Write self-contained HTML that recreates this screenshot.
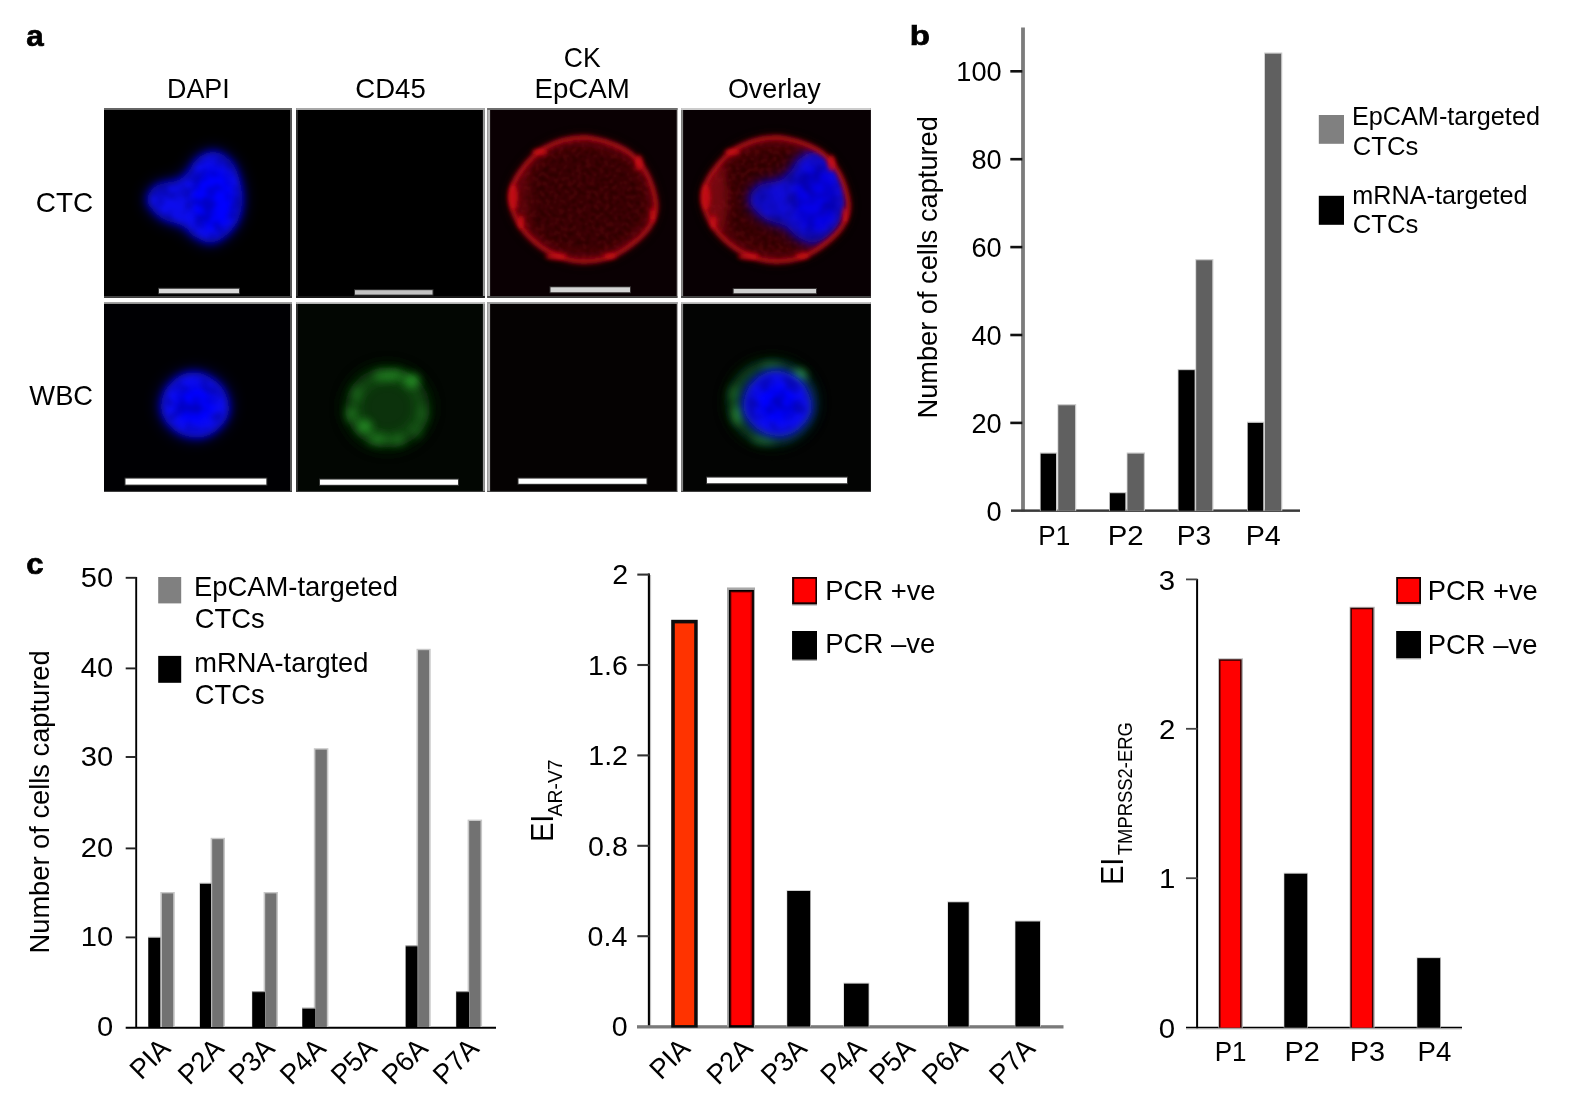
<!DOCTYPE html>
<html lang="en">
<head>
<meta charset="utf-8">
<title>Figure: CTC capture and expression index</title>
<style>
html,body{margin:0;padding:0;background:#fff;}
body{width:1584px;height:1111px;overflow:hidden;}
svg{display:block;}
svg text{font-family:"Liberation Sans", sans-serif;}
</style>
</head>
<body>
<svg width="1584" height="1111" viewBox="0 0 1584 1111">
<defs>
<filter id="b1" x="-40%" y="-40%" width="180%" height="180%"><feGaussianBlur stdDeviation="1.2"/></filter>
<filter id="b2" x="-120%" y="-120%" width="340%" height="340%"><feGaussianBlur stdDeviation="2"/></filter>
<filter id="b3" x="-150%" y="-150%" width="400%" height="400%"><feGaussianBlur stdDeviation="3"/></filter>
<filter id="b4" x="-80%" y="-80%" width="260%" height="260%"><feGaussianBlur stdDeviation="5"/></filter>
<filter id="b6" x="-100%" y="-100%" width="300%" height="300%"><feGaussianBlur stdDeviation="8"/></filter>
<filter id="s4" x="-300%" y="-300%" width="700%" height="700%"><feGaussianBlur stdDeviation="4"/></filter>
<filter id="s5" x="-300%" y="-300%" width="700%" height="700%"><feGaussianBlur stdDeviation="5.5"/></filter>
<clipPath id="cp00"><rect x="104.0" y="108.0" width="188.0" height="189.89999999999998"/></clipPath>
<clipPath id="cp01"><rect x="296.1" y="108.0" width="188.79999999999995" height="189.89999999999998"/></clipPath>
<clipPath id="cp02"><rect x="487.2" y="108.0" width="190.2" height="189.89999999999998"/></clipPath>
<clipPath id="cp03"><rect x="681.1" y="108.0" width="189.79999999999995" height="189.89999999999998"/></clipPath>
<clipPath id="cp10"><rect x="104.0" y="302.0" width="188.0" height="189.7"/></clipPath>
<clipPath id="cp11"><rect x="296.1" y="302.0" width="188.79999999999995" height="189.7"/></clipPath>
<clipPath id="cp12"><rect x="487.2" y="302.0" width="190.2" height="189.7"/></clipPath>
<clipPath id="cp13"><rect x="681.1" y="302.0" width="189.79999999999995" height="189.7"/></clipPath>
<filter id="blotch" x="-10%" y="-10%" width="120%" height="120%"><feTurbulence type="fractalNoise" baseFrequency="0.07" numOctaves="2" seed="11" result="n"/><feColorMatrix in="n" type="matrix" values="0 0 0 0 1  0 0 0 0 1  0 0 0 0 1  3 0 0 0 -1.15" result="a"/><feComposite in="SourceGraphic" in2="a" operator="in" result="g"/><feGaussianBlur in="g" stdDeviation="2.2"/></filter>
<filter id="grain" x="-5%" y="-5%" width="110%" height="110%"><feTurbulence type="fractalNoise" baseFrequency="0.22" numOctaves="2" seed="7" result="n"/><feColorMatrix in="n" type="matrix" values="0 0 0 0 1  0 0 0 0 1  0 0 0 0 1  2.6 0 0 0 -0.85" result="a"/><feComposite in="SourceGraphic" in2="a" operator="in" result="g"/><feGaussianBlur in="g" stdDeviation="1.3"/></filter>
<clipPath id="cpm0"><path d="M510.5 196.0C510.8 187.7 514.3 180.0 520.0 172.0C525.7 164.0 533.9 153.8 544.5 148.0C555.1 142.2 570.5 137.2 583.8 137.5C597.1 137.8 614.1 143.8 624.5 149.5C634.9 155.2 640.8 162.9 646.0 172.0C651.2 181.1 655.3 194.8 656.0 203.8C656.7 212.8 653.8 219.4 650.0 226.0C646.2 232.6 639.7 238.3 633.0 243.5C626.3 248.7 618.2 254.0 610.0 257.0C601.8 260.0 592.1 261.5 583.8 261.5C575.5 261.5 567.9 260.0 560.0 257.0C552.1 254.0 543.5 249.3 536.5 243.5C529.5 237.7 522.3 229.9 518.0 222.0C513.7 214.1 510.2 204.3 510.5 196.0Z"/></clipPath>
<clipPath id="cpm192"><path d="M703.0 196.0C703.3 187.7 706.8 180.0 712.5 172.0C718.2 164.0 726.4 153.8 737.0 148.0C747.6 142.2 763.0 137.2 776.3 137.5C789.6 137.8 806.6 143.8 817.0 149.5C827.4 155.2 833.2 162.9 838.5 172.0C843.8 181.1 847.8 194.8 848.5 203.8C849.2 212.8 846.3 219.4 842.5 226.0C838.7 232.6 832.2 238.3 825.5 243.5C818.8 248.7 810.7 254.0 802.5 257.0C794.3 260.0 784.6 261.5 776.3 261.5C768.0 261.5 760.4 260.0 752.5 257.0C744.6 254.0 736.0 249.3 729.0 243.5C722.0 237.7 714.8 229.9 710.5 222.0C706.2 214.1 702.7 204.3 703.0 196.0Z"/></clipPath>
</defs>
<rect x="0" y="0" width="1584" height="1111" fill="#fff"/>
<rect x="104.00" y="108.00" width="188.00" height="189.90" fill="#000000"/>
<rect x="290.00" y="108.00" width="2.00" height="189.90" fill="#555"/>
<rect x="104.00" y="108.00" width="188.00" height="2.00" fill="#666"/>
<rect x="104.00" y="296.00" width="188.00" height="1.90" fill="#444"/>
<rect x="296.10" y="108.00" width="188.80" height="189.90" fill="#000000"/>
<rect x="296.10" y="108.00" width="1.80" height="189.90" fill="#333"/>
<rect x="482.90" y="108.00" width="2.00" height="189.90" fill="#999"/>
<rect x="296.10" y="108.00" width="188.80" height="2.00" fill="#a8a8a8"/>
<rect x="296.10" y="296.00" width="188.80" height="1.90" fill="#1a1a1a"/>
<rect x="487.20" y="108.00" width="190.20" height="189.90" fill="#0a0003"/>
<rect x="487.20" y="108.00" width="2.90" height="189.90" fill="#b5b5b5"/>
<rect x="676.80" y="108.00" width="0.60" height="189.90" fill="#ccc"/>
<rect x="487.20" y="108.00" width="190.20" height="2.00" fill="#6e6e6e"/>
<rect x="487.20" y="296.00" width="190.20" height="1.90" fill="#444"/>
<rect x="681.10" y="108.00" width="189.80" height="189.90" fill="#080003"/>
<rect x="681.10" y="108.00" width="2.00" height="189.90" fill="#888"/>
<rect x="681.10" y="108.00" width="189.80" height="2.00" fill="#cccccc"/>
<rect x="681.10" y="296.00" width="189.80" height="1.90" fill="#444"/>
<rect x="104.00" y="302.00" width="188.00" height="189.70" fill="#000003"/>
<rect x="290.00" y="302.00" width="2.00" height="189.70" fill="#555"/>
<rect x="104.00" y="302.00" width="188.00" height="1.90" fill="#a2a2a2"/>
<rect x="104.00" y="490.90" width="188.00" height="0.80" fill="#3a3a3a"/>
<rect x="296.10" y="302.00" width="188.80" height="189.70" fill="#020602"/>
<rect x="296.10" y="302.00" width="1.80" height="189.70" fill="#333"/>
<rect x="482.90" y="302.00" width="2.00" height="189.70" fill="#999"/>
<rect x="296.10" y="302.00" width="188.80" height="1.90" fill="#c4c4c4"/>
<rect x="296.10" y="490.90" width="188.80" height="0.80" fill="#3a3a3a"/>
<rect x="487.20" y="302.00" width="190.20" height="189.70" fill="#050202"/>
<rect x="487.20" y="302.00" width="2.90" height="189.70" fill="#b5b5b5"/>
<rect x="676.80" y="302.00" width="0.60" height="189.70" fill="#ccc"/>
<rect x="487.20" y="302.00" width="190.20" height="1.90" fill="#a2a2a2"/>
<rect x="487.20" y="490.90" width="190.20" height="0.80" fill="#3a3a3a"/>
<rect x="681.10" y="302.00" width="189.80" height="189.70" fill="#030403"/>
<rect x="681.10" y="302.00" width="2.00" height="189.70" fill="#888"/>
<rect x="681.10" y="302.00" width="189.80" height="1.90" fill="#c4c4c4"/>
<rect x="681.10" y="490.90" width="189.80" height="0.80" fill="#3a3a3a"/>
<g clip-path="url(#cp00)" opacity="1.0">
<path d="M215.5 152.0C221.4 153.2 229.1 158.1 233.5 165.0C237.9 171.9 241.2 184.5 242.0 193.5C242.8 202.5 241.3 211.9 238.5 219.0C235.7 226.1 229.8 232.1 225.0 236.0C220.2 239.9 215.2 242.5 210.0 242.5C204.8 242.5 198.5 238.8 194.0 236.0C189.5 233.2 188.5 229.1 183.0 226.0C177.5 222.9 166.9 221.7 161.0 217.5C155.1 213.3 148.3 206.2 147.5 201.0C146.7 195.8 150.9 189.5 156.0 186.0C161.1 182.5 172.7 182.3 178.0 180.0C183.3 177.7 184.7 175.7 188.0 172.0C191.3 168.3 193.4 161.3 198.0 158.0C202.6 154.7 209.6 150.8 215.5 152.0Z" fill="#0808d8" stroke="#0808d8" stroke-width="4" filter="url(#b6)" opacity="0.45"/>
<path d="M215.5 152.0C221.4 153.2 229.1 158.1 233.5 165.0C237.9 171.9 241.2 184.5 242.0 193.5C242.8 202.5 241.3 211.9 238.5 219.0C235.7 226.1 229.8 232.1 225.0 236.0C220.2 239.9 215.2 242.5 210.0 242.5C204.8 242.5 198.5 238.8 194.0 236.0C189.5 233.2 188.5 229.1 183.0 226.0C177.5 222.9 166.9 221.7 161.0 217.5C155.1 213.3 148.3 206.2 147.5 201.0C146.7 195.8 150.9 189.5 156.0 186.0C161.1 182.5 172.7 182.3 178.0 180.0C183.3 177.7 184.7 175.7 188.0 172.0C191.3 168.3 193.4 161.3 198.0 158.0C202.6 154.7 209.6 150.8 215.5 152.0Z" fill="#0a0aee" filter="url(#b4)"/>
<ellipse cx="213" cy="199" rx="21" ry="32" fill="#0202ff" filter="url(#b4)"/>
<path d="M215.5 152.0C221.4 153.2 229.1 158.1 233.5 165.0C237.9 171.9 241.2 184.5 242.0 193.5C242.8 202.5 241.3 211.9 238.5 219.0C235.7 226.1 229.8 232.1 225.0 236.0C220.2 239.9 215.2 242.5 210.0 242.5C204.8 242.5 198.5 238.8 194.0 236.0C189.5 233.2 188.5 229.1 183.0 226.0C177.5 222.9 166.9 221.7 161.0 217.5C155.1 213.3 148.3 206.2 147.5 201.0C146.7 195.8 150.9 189.5 156.0 186.0C161.1 182.5 172.7 182.3 178.0 180.0C183.3 177.7 184.7 175.7 188.0 172.0C191.3 168.3 193.4 161.3 198.0 158.0C202.6 154.7 209.6 150.8 215.5 152.0Z" fill="#00006e" filter="url(#blotch)" opacity="0.4"/>
</g>
<g clip-path="url(#cp02)">
<path d="M510.5 196.0C510.8 187.7 514.3 180.0 520.0 172.0C525.7 164.0 533.9 153.8 544.5 148.0C555.1 142.2 570.5 137.2 583.8 137.5C597.1 137.8 614.1 143.8 624.5 149.5C634.9 155.2 640.8 162.9 646.0 172.0C651.2 181.1 655.3 194.8 656.0 203.8C656.7 212.8 653.8 219.4 650.0 226.0C646.2 232.6 639.7 238.3 633.0 243.5C626.3 248.7 618.2 254.0 610.0 257.0C601.8 260.0 592.1 261.5 583.8 261.5C575.5 261.5 567.9 260.0 560.0 257.0C552.1 254.0 543.5 249.3 536.5 243.5C529.5 237.7 522.3 229.9 518.0 222.0C513.7 214.1 510.2 204.3 510.5 196.0Z" fill="#300207" stroke="#300207" stroke-width="6" filter="url(#b4)" opacity="0.6"/>
<path d="M510.5 196.0C510.8 187.7 514.3 180.0 520.0 172.0C525.7 164.0 533.9 153.8 544.5 148.0C555.1 142.2 570.5 137.2 583.8 137.5C597.1 137.8 614.1 143.8 624.5 149.5C634.9 155.2 640.8 162.9 646.0 172.0C651.2 181.1 655.3 194.8 656.0 203.8C656.7 212.8 653.8 219.4 650.0 226.0C646.2 232.6 639.7 238.3 633.0 243.5C626.3 248.7 618.2 254.0 610.0 257.0C601.8 260.0 592.1 261.5 583.8 261.5C575.5 261.5 567.9 260.0 560.0 257.0C552.1 254.0 543.5 249.3 536.5 243.5C529.5 237.7 522.3 229.9 518.0 222.0C513.7 214.1 510.2 204.3 510.5 196.0Z" fill="#2e0206" filter="url(#b2)"/>
<g clip-path="url(#cpm0)">
<path d="M510.5 196.0C510.8 187.7 514.3 180.0 520.0 172.0C525.7 164.0 533.9 153.8 544.5 148.0C555.1 142.2 570.5 137.2 583.8 137.5C597.1 137.8 614.1 143.8 624.5 149.5C634.9 155.2 640.8 162.9 646.0 172.0C651.2 181.1 655.3 194.8 656.0 203.8C656.7 212.8 653.8 219.4 650.0 226.0C646.2 232.6 639.7 238.3 633.0 243.5C626.3 248.7 618.2 254.0 610.0 257.0C601.8 260.0 592.1 261.5 583.8 261.5C575.5 261.5 567.9 260.0 560.0 257.0C552.1 254.0 543.5 249.3 536.5 243.5C529.5 237.7 522.3 229.9 518.0 222.0C513.7 214.1 510.2 204.3 510.5 196.0Z" fill="none" stroke="#6a060e" stroke-width="18" filter="url(#b4)" opacity="0.6"/>
<ellipse cx="522" cy="199" rx="10" ry="38" fill="#8c0812" filter="url(#b4)" opacity="0.3"/>
<path d="M510.5 196.0C510.8 187.7 514.3 180.0 520.0 172.0C525.7 164.0 533.9 153.8 544.5 148.0C555.1 142.2 570.5 137.2 583.8 137.5C597.1 137.8 614.1 143.8 624.5 149.5C634.9 155.2 640.8 162.9 646.0 172.0C651.2 181.1 655.3 194.8 656.0 203.8C656.7 212.8 653.8 219.4 650.0 226.0C646.2 232.6 639.7 238.3 633.0 243.5C626.3 248.7 618.2 254.0 610.0 257.0C601.8 260.0 592.1 261.5 583.8 261.5C575.5 261.5 567.9 260.0 560.0 257.0C552.1 254.0 543.5 249.3 536.5 243.5C529.5 237.7 522.3 229.9 518.0 222.0C513.7 214.1 510.2 204.3 510.5 196.0Z" fill="#90091a" filter="url(#grain)" opacity="0.28"/>
</g>
<g>
<path d="M510.5 196.0C510.8 187.7 514.3 180.0 520.0 172.0C525.7 164.0 533.9 153.8 544.5 148.0C555.1 142.2 570.5 137.2 583.8 137.5C597.1 137.8 614.1 143.8 624.5 149.5C634.9 155.2 640.8 162.9 646.0 172.0C651.2 181.1 655.3 194.8 656.0 203.8C656.7 212.8 653.8 219.4 650.0 226.0C646.2 232.6 639.7 238.3 633.0 243.5C626.3 248.7 618.2 254.0 610.0 257.0C601.8 260.0 592.1 261.5 583.8 261.5C575.5 261.5 567.9 260.0 560.0 257.0C552.1 254.0 543.5 249.3 536.5 243.5C529.5 237.7 522.3 229.9 518.0 222.0C513.7 214.1 510.2 204.3 510.5 196.0Z" fill="none" stroke="#a50917" stroke-width="5" filter="url(#b2)"/>
<ellipse cx="513.5" cy="197" rx="4.5" ry="13" fill="#d00a14" filter="url(#b2)" opacity="0.8"/>
<ellipse cx="639" cy="163" rx="4" ry="8" fill="#d00a14" filter="url(#b2)" opacity="0.8"/>
<ellipse cx="556" cy="256.5" rx="11" ry="3.2" fill="#d00a14" filter="url(#b2)" opacity="0.8"/>
<ellipse cx="521" cy="222" rx="3.2" ry="7" fill="#d00a14" filter="url(#b2)" opacity="0.8"/>
<ellipse cx="610" cy="256" rx="7" ry="3" fill="#d00a14" filter="url(#b2)" opacity="0.8"/>
<ellipse cx="652.5" cy="215" rx="2.6" ry="8" fill="#d00a14" filter="url(#b2)" opacity="0.8"/>
<ellipse cx="540" cy="152" rx="8" ry="3.2" fill="#d00a14" filter="url(#b2)" opacity="0.8"/>
</g>
</g>
<g clip-path="url(#cp03)">
<path d="M703.0 196.0C703.3 187.7 706.8 180.0 712.5 172.0C718.2 164.0 726.4 153.8 737.0 148.0C747.6 142.2 763.0 137.2 776.3 137.5C789.6 137.8 806.6 143.8 817.0 149.5C827.4 155.2 833.2 162.9 838.5 172.0C843.8 181.1 847.8 194.8 848.5 203.8C849.2 212.8 846.3 219.4 842.5 226.0C838.7 232.6 832.2 238.3 825.5 243.5C818.8 248.7 810.7 254.0 802.5 257.0C794.3 260.0 784.6 261.5 776.3 261.5C768.0 261.5 760.4 260.0 752.5 257.0C744.6 254.0 736.0 249.3 729.0 243.5C722.0 237.7 714.8 229.9 710.5 222.0C706.2 214.1 702.7 204.3 703.0 196.0Z" fill="#300207" stroke="#300207" stroke-width="6" filter="url(#b4)" opacity="0.6"/>
<path d="M703.0 196.0C703.3 187.7 706.8 180.0 712.5 172.0C718.2 164.0 726.4 153.8 737.0 148.0C747.6 142.2 763.0 137.2 776.3 137.5C789.6 137.8 806.6 143.8 817.0 149.5C827.4 155.2 833.2 162.9 838.5 172.0C843.8 181.1 847.8 194.8 848.5 203.8C849.2 212.8 846.3 219.4 842.5 226.0C838.7 232.6 832.2 238.3 825.5 243.5C818.8 248.7 810.7 254.0 802.5 257.0C794.3 260.0 784.6 261.5 776.3 261.5C768.0 261.5 760.4 260.0 752.5 257.0C744.6 254.0 736.0 249.3 729.0 243.5C722.0 237.7 714.8 229.9 710.5 222.0C706.2 214.1 702.7 204.3 703.0 196.0Z" fill="#2e0206" filter="url(#b2)"/>
<g clip-path="url(#cpm192)">
<path d="M703.0 196.0C703.3 187.7 706.8 180.0 712.5 172.0C718.2 164.0 726.4 153.8 737.0 148.0C747.6 142.2 763.0 137.2 776.3 137.5C789.6 137.8 806.6 143.8 817.0 149.5C827.4 155.2 833.2 162.9 838.5 172.0C843.8 181.1 847.8 194.8 848.5 203.8C849.2 212.8 846.3 219.4 842.5 226.0C838.7 232.6 832.2 238.3 825.5 243.5C818.8 248.7 810.7 254.0 802.5 257.0C794.3 260.0 784.6 261.5 776.3 261.5C768.0 261.5 760.4 260.0 752.5 257.0C744.6 254.0 736.0 249.3 729.0 243.5C722.0 237.7 714.8 229.9 710.5 222.0C706.2 214.1 702.7 204.3 703.0 196.0Z" fill="none" stroke="#6a060e" stroke-width="18" filter="url(#b4)" opacity="0.6"/>
<ellipse cx="714.5" cy="199" rx="14" ry="38" fill="#8c0812" filter="url(#b4)" opacity="0.7"/>
<path d="M703.0 196.0C703.3 187.7 706.8 180.0 712.5 172.0C718.2 164.0 726.4 153.8 737.0 148.0C747.6 142.2 763.0 137.2 776.3 137.5C789.6 137.8 806.6 143.8 817.0 149.5C827.4 155.2 833.2 162.9 838.5 172.0C843.8 181.1 847.8 194.8 848.5 203.8C849.2 212.8 846.3 219.4 842.5 226.0C838.7 232.6 832.2 238.3 825.5 243.5C818.8 248.7 810.7 254.0 802.5 257.0C794.3 260.0 784.6 261.5 776.3 261.5C768.0 261.5 760.4 260.0 752.5 257.0C744.6 254.0 736.0 249.3 729.0 243.5C722.0 237.7 714.8 229.9 710.5 222.0C706.2 214.1 702.7 204.3 703.0 196.0Z" fill="#90091a" filter="url(#grain)" opacity="0.28"/>
</g>
</g>
<g clip-path="url(#cpm192)">
<g clip-path="url(#cp03)" opacity="0.9">
<path d="M818.0 152.0C823.9 153.2 831.6 158.1 836.0 165.0C840.4 171.9 843.7 184.5 844.5 193.5C845.3 202.5 843.8 211.9 841.0 219.0C838.2 226.1 832.2 232.1 827.5 236.0C822.8 239.9 817.7 242.5 812.5 242.5C807.3 242.5 801.0 238.8 796.5 236.0C792.0 233.2 791.0 229.1 785.5 226.0C780.0 222.9 769.4 221.7 763.5 217.5C757.6 213.3 750.8 206.2 750.0 201.0C749.2 195.8 753.4 189.5 758.5 186.0C763.6 182.5 775.2 182.3 780.5 180.0C785.8 177.7 787.2 175.7 790.5 172.0C793.8 168.3 795.9 161.3 800.5 158.0C805.1 154.7 812.1 150.8 818.0 152.0Z" fill="#0808d8" stroke="#0808d8" stroke-width="4" filter="url(#b6)" opacity="0.45"/>
<path d="M818.0 152.0C823.9 153.2 831.6 158.1 836.0 165.0C840.4 171.9 843.7 184.5 844.5 193.5C845.3 202.5 843.8 211.9 841.0 219.0C838.2 226.1 832.2 232.1 827.5 236.0C822.8 239.9 817.7 242.5 812.5 242.5C807.3 242.5 801.0 238.8 796.5 236.0C792.0 233.2 791.0 229.1 785.5 226.0C780.0 222.9 769.4 221.7 763.5 217.5C757.6 213.3 750.8 206.2 750.0 201.0C749.2 195.8 753.4 189.5 758.5 186.0C763.6 182.5 775.2 182.3 780.5 180.0C785.8 177.7 787.2 175.7 790.5 172.0C793.8 168.3 795.9 161.3 800.5 158.0C805.1 154.7 812.1 150.8 818.0 152.0Z" fill="#0a0aee" filter="url(#b4)"/>
<ellipse cx="815.5" cy="199" rx="21" ry="32" fill="#0202ff" filter="url(#b4)"/>
<path d="M818.0 152.0C823.9 153.2 831.6 158.1 836.0 165.0C840.4 171.9 843.7 184.5 844.5 193.5C845.3 202.5 843.8 211.9 841.0 219.0C838.2 226.1 832.2 232.1 827.5 236.0C822.8 239.9 817.7 242.5 812.5 242.5C807.3 242.5 801.0 238.8 796.5 236.0C792.0 233.2 791.0 229.1 785.5 226.0C780.0 222.9 769.4 221.7 763.5 217.5C757.6 213.3 750.8 206.2 750.0 201.0C749.2 195.8 753.4 189.5 758.5 186.0C763.6 182.5 775.2 182.3 780.5 180.0C785.8 177.7 787.2 175.7 790.5 172.0C793.8 168.3 795.9 161.3 800.5 158.0C805.1 154.7 812.1 150.8 818.0 152.0Z" fill="#00006e" filter="url(#blotch)" opacity="0.4"/>
</g>
</g>
<g clip-path="url(#cp03)">
<g style="mix-blend-mode:screen">
<path d="M703.0 196.0C703.3 187.7 706.8 180.0 712.5 172.0C718.2 164.0 726.4 153.8 737.0 148.0C747.6 142.2 763.0 137.2 776.3 137.5C789.6 137.8 806.6 143.8 817.0 149.5C827.4 155.2 833.2 162.9 838.5 172.0C843.8 181.1 847.8 194.8 848.5 203.8C849.2 212.8 846.3 219.4 842.5 226.0C838.7 232.6 832.2 238.3 825.5 243.5C818.8 248.7 810.7 254.0 802.5 257.0C794.3 260.0 784.6 261.5 776.3 261.5C768.0 261.5 760.4 260.0 752.5 257.0C744.6 254.0 736.0 249.3 729.0 243.5C722.0 237.7 714.8 229.9 710.5 222.0C706.2 214.1 702.7 204.3 703.0 196.0Z" fill="none" stroke="#a50917" stroke-width="5" filter="url(#b2)"/>
<ellipse cx="706.0" cy="197" rx="4.5" ry="13" fill="#d00a14" filter="url(#b2)" opacity="0.8"/>
<ellipse cx="831.5" cy="163" rx="4" ry="8" fill="#d00a14" filter="url(#b2)" opacity="0.8"/>
<ellipse cx="748.5" cy="256.5" rx="11" ry="3.2" fill="#d00a14" filter="url(#b2)" opacity="0.8"/>
<ellipse cx="713.5" cy="222" rx="3.2" ry="7" fill="#d00a14" filter="url(#b2)" opacity="0.8"/>
<ellipse cx="802.5" cy="256" rx="7" ry="3" fill="#d00a14" filter="url(#b2)" opacity="0.8"/>
<ellipse cx="845.0" cy="215" rx="2.6" ry="8" fill="#d00a14" filter="url(#b2)" opacity="0.8"/>
<ellipse cx="732.5" cy="152" rx="8" ry="3.2" fill="#d00a14" filter="url(#b2)" opacity="0.8"/>
</g>
</g>
<g clip-path="url(#cp10)">
<ellipse cx="195" cy="405" rx="36" ry="34" fill="#0808d8" filter="url(#b6)" opacity="0.45"/>
<path d="M161.0 407.0C161.0 401.2 163.2 393.0 167.0 387.5C170.8 382.0 178.0 376.2 184.0 374.0C190.0 371.8 196.7 371.8 203.0 374.0C209.3 376.2 217.7 381.7 222.0 387.5C226.3 393.3 229.2 402.6 229.0 409.0C228.8 415.4 225.3 421.3 221.0 426.0C216.7 430.7 209.5 435.6 203.0 437.0C196.5 438.4 188.0 436.9 182.0 434.5C176.0 432.1 170.5 427.1 167.0 422.5C163.5 417.9 161.0 412.8 161.0 407.0Z" fill="#0a0aee" filter="url(#b4)"/>
<ellipse cx="195" cy="405" rx="20" ry="19" fill="#0202ff" filter="url(#b4)"/>
<ellipse cx="195" cy="405" rx="30" ry="28" fill="#00006e" filter="url(#blotch)" opacity="0.4"/>
</g>
<g clip-path="url(#cp11)">
<ellipse cx="387.5" cy="407.5" rx="42" ry="40" fill="#0b340d" filter="url(#b6)" opacity="0.95"/>
<ellipse cx="387.5" cy="407.5" rx="33" ry="31.5" fill="none" stroke="#156417" stroke-width="13" filter="url(#b4)" opacity="0.45"/>
<ellipse cx="412.0" cy="380.5" rx="8" ry="7" fill="#30bc30" filter="url(#s4)" opacity="0.64"/>
<ellipse cx="384.5" cy="375.5" rx="11" ry="5.5" fill="#30bc30" filter="url(#s4)" opacity="0.44"/>
<ellipse cx="397.5" cy="374.5" rx="8" ry="5" fill="#30bc30" filter="url(#s4)" opacity="0.40"/>
<ellipse cx="350.5" cy="414.5" rx="5" ry="8" fill="#30bc30" filter="url(#s4)" opacity="0.44"/>
<ellipse cx="364.5" cy="426.5" rx="8" ry="7" fill="#30bc30" filter="url(#s4)" opacity="0.56"/>
<ellipse cx="377.5" cy="439.5" rx="10" ry="5.5" fill="#30bc30" filter="url(#s4)" opacity="0.40"/>
<ellipse cx="397.5" cy="440.5" rx="9" ry="5" fill="#30bc30" filter="url(#s4)" opacity="0.32"/>
<ellipse cx="356.5" cy="393.5" rx="5" ry="8" fill="#30bc30" filter="url(#s4)" opacity="0.28"/>
<ellipse cx="423.5" cy="415.5" rx="4.5" ry="11" fill="#30bc30" filter="url(#s4)" opacity="0.24"/>
<ellipse cx="417.5" cy="431.5" rx="6" ry="7" fill="#30bc30" filter="url(#s4)" opacity="0.24"/>
</g>
<g clip-path="url(#cp13)">
<ellipse cx="772.0" cy="402.5" rx="43" ry="41" fill="#0c3d12" filter="url(#b6)" opacity="0.8"/>
<ellipse cx="772.0" cy="402.5" rx="38" ry="36.5" fill="none" stroke="#176a20" stroke-width="9" filter="url(#b4)" opacity="0.5"/>
<ellipse cx="799.5" cy="375.5" rx="7" ry="6" fill="#38b83a" filter="url(#s4)" opacity="0.85"/>
<ellipse cx="737.5" cy="414.5" rx="5" ry="10" fill="#38b83a" filter="url(#s4)" opacity="0.6"/>
<ellipse cx="763.5" cy="439.5" rx="12" ry="5" fill="#38b83a" filter="url(#s4)" opacity="0.35"/>
<ellipse cx="771.5" cy="366.5" rx="10" ry="4" fill="#38b83a" filter="url(#s4)" opacity="0.35"/>
<ellipse cx="733.5" cy="393.5" rx="5" ry="8" fill="#38b83a" filter="url(#s4)" opacity="0.3"/>
</g>
<g clip-path="url(#cp13)">
<ellipse cx="777.5" cy="403.5" rx="36" ry="34" fill="#0808d8" filter="url(#b6)" opacity="0.45"/>
<path d="M743.5 405.5C743.5 399.7 745.7 391.5 749.5 386.0C753.3 380.5 760.5 374.8 766.5 372.5C772.5 370.2 779.2 370.2 785.5 372.5C791.8 374.8 800.2 380.2 804.5 386.0C808.8 391.8 811.7 401.1 811.5 407.5C811.3 413.9 807.8 419.8 803.5 424.5C799.2 429.2 792.0 434.1 785.5 435.5C779.0 436.9 770.5 435.4 764.5 433.0C758.5 430.6 753.0 425.6 749.5 421.0C746.0 416.4 743.5 411.3 743.5 405.5Z" fill="#0a0aee" filter="url(#b4)"/>
<ellipse cx="777.5" cy="403.5" rx="20" ry="19" fill="#0202ff" filter="url(#b4)"/>
<ellipse cx="777.5" cy="403.5" rx="30" ry="28" fill="#00006e" filter="url(#blotch)" opacity="0.4"/>
</g>
<rect x="158.00" y="287.80" width="82.00" height="6.40" fill="#555" opacity="0.6"/>
<rect x="159.00" y="288.80" width="80.00" height="4.40" fill="#d8d8d8"/>
<rect x="354.00" y="289.20" width="79.50" height="6.40" fill="#555" opacity="0.6"/>
<rect x="355.00" y="290.20" width="77.50" height="4.40" fill="#c4c4c4"/>
<rect x="549.50" y="286.30" width="81.50" height="6.90" fill="#555" opacity="0.6"/>
<rect x="550.50" y="287.30" width="79.50" height="4.90" fill="#d4d4d4"/>
<rect x="732.70" y="288.00" width="84.30" height="6.20" fill="#555" opacity="0.6"/>
<rect x="733.70" y="289.00" width="82.30" height="4.20" fill="#cfcfcf"/>
<rect x="124.50" y="477.60" width="142.80" height="8.00" fill="#555" opacity="0.6"/>
<rect x="125.50" y="478.60" width="140.80" height="6.00" fill="#ffffff"/>
<rect x="319.00" y="478.60" width="140.00" height="7.20" fill="#555" opacity="0.6"/>
<rect x="320.00" y="479.60" width="138.00" height="5.20" fill="#ffffff"/>
<rect x="517.50" y="477.60" width="130.00" height="7.20" fill="#555" opacity="0.6"/>
<rect x="518.50" y="478.60" width="128.00" height="5.20" fill="#ffffff"/>
<rect x="706.00" y="476.60" width="142.00" height="7.60" fill="#555" opacity="0.6"/>
<rect x="707.00" y="477.60" width="140.00" height="5.60" fill="#ffffff"/>
<text x="26.36" y="46.00" font-size="29.5" textLength="17.44" lengthAdjust="spacingAndGlyphs" font-weight="bold" stroke="#000" stroke-width="0.7">a</text>
<text x="909.75" y="45.00" font-size="28.5" textLength="20.20" lengthAdjust="spacingAndGlyphs" font-weight="bold" stroke="#000" stroke-width="0.7">b</text>
<text x="26.35" y="573.80" font-size="29.5" textLength="17.34" lengthAdjust="spacingAndGlyphs" font-weight="bold" stroke="#000" stroke-width="0.7">c</text>
<text x="166.98" y="97.80" font-size="28" textLength="62.75" lengthAdjust="spacingAndGlyphs">DAPI</text>
<text x="355.32" y="97.80" font-size="28" textLength="70.43" lengthAdjust="spacingAndGlyphs">CD45</text>
<text x="563.87" y="66.90" font-size="28" textLength="36.84" lengthAdjust="spacingAndGlyphs">CK</text>
<text x="534.52" y="97.90" font-size="28" textLength="95.27" lengthAdjust="spacingAndGlyphs">EpCAM</text>
<text x="727.92" y="97.90" font-size="28" textLength="92.76" lengthAdjust="spacingAndGlyphs">Overlay</text>
<text x="35.81" y="211.80" font-size="28" textLength="57.32" lengthAdjust="spacingAndGlyphs">CTC</text>
<text x="29.36" y="405.20" font-size="28" textLength="63.74" lengthAdjust="spacingAndGlyphs">WBC</text>
<rect x="1021.10" y="27.50" width="3.80" height="484.00" fill="#7c7c7c"/>
<rect x="1011.00" y="509.40" width="289.00" height="2.50" fill="#3a3a3a"/>
<rect x="1010.30" y="421.60" width="12.00" height="2.60" fill="#111"/>
<rect x="1010.30" y="333.70" width="12.00" height="2.60" fill="#111"/>
<rect x="1010.30" y="245.80" width="12.00" height="2.60" fill="#111"/>
<rect x="1010.30" y="157.90" width="12.00" height="2.60" fill="#111"/>
<rect x="1010.30" y="70.00" width="12.00" height="2.60" fill="#111"/>
<text x="986.54" y="520.80" font-size="28" textLength="15.11" lengthAdjust="spacingAndGlyphs">0</text>
<text x="971.47" y="432.90" font-size="28" textLength="30.21" lengthAdjust="spacingAndGlyphs">20</text>
<text x="971.47" y="345.00" font-size="28" textLength="30.21" lengthAdjust="spacingAndGlyphs">40</text>
<text x="971.47" y="257.10" font-size="28" textLength="30.21" lengthAdjust="spacingAndGlyphs">60</text>
<text x="971.47" y="169.20" font-size="28" textLength="30.21" lengthAdjust="spacingAndGlyphs">80</text>
<text x="956.33" y="81.30" font-size="28" textLength="45.32" lengthAdjust="spacingAndGlyphs">100</text>
<rect x="1039.90" y="452.47" width="17.30" height="58.33" fill="#c9c9c9"/>
<rect x="1040.70" y="453.67" width="15.30" height="57.13" fill="#000"/>
<rect x="1057.50" y="404.12" width="18.70" height="106.68" fill="#c9c9c9"/>
<rect x="1058.30" y="405.32" width="16.70" height="105.48" fill="#606060"/>
<rect x="1109.10" y="492.02" width="17.40" height="18.78" fill="#c9c9c9"/>
<rect x="1109.90" y="493.22" width="15.40" height="17.58" fill="#000"/>
<rect x="1126.70" y="452.47" width="18.30" height="58.33" fill="#c9c9c9"/>
<rect x="1127.50" y="453.67" width="16.30" height="57.13" fill="#606060"/>
<rect x="1177.70" y="368.96" width="18.10" height="141.84" fill="#c9c9c9"/>
<rect x="1178.50" y="370.16" width="16.10" height="140.64" fill="#000"/>
<rect x="1195.40" y="259.09" width="18.00" height="251.71" fill="#c9c9c9"/>
<rect x="1196.20" y="260.29" width="16.00" height="250.51" fill="#606060"/>
<rect x="1247.00" y="421.70" width="17.40" height="89.10" fill="#c9c9c9"/>
<rect x="1247.80" y="422.90" width="15.40" height="87.90" fill="#000"/>
<rect x="1264.20" y="52.52" width="18.10" height="458.28" fill="#c9c9c9"/>
<rect x="1265.00" y="53.72" width="16.10" height="457.08" fill="#606060"/>
<text x="1038.25" y="545.20" font-size="28" textLength="31.91" lengthAdjust="spacingAndGlyphs">P1</text>
<text x="1107.68" y="545.20" font-size="28" textLength="35.91" lengthAdjust="spacingAndGlyphs">P2</text>
<text x="1176.78" y="545.20" font-size="28" textLength="34.44" lengthAdjust="spacingAndGlyphs">P3</text>
<text x="1245.73" y="545.20" font-size="28" textLength="35.07" lengthAdjust="spacingAndGlyphs">P4</text>
<text transform="translate(937.00 418.44) rotate(-90)" x="0.00" y="0.00" font-size="28" textLength="302.29" lengthAdjust="spacingAndGlyphs">Number of cells captured</text>
<rect x="1318.80" y="115.00" width="25.20" height="28.80" fill="#808080"/>
<rect x="1318.80" y="195.80" width="25.20" height="29.00" fill="#000"/>
<text x="1351.92" y="124.50" font-size="26" textLength="188.07" lengthAdjust="spacingAndGlyphs">EpCAM-targeted</text>
<text x="1352.72" y="155.30" font-size="26" textLength="65.48" lengthAdjust="spacingAndGlyphs">CTCs</text>
<text x="1352.30" y="203.90" font-size="26" textLength="175.23" lengthAdjust="spacingAndGlyphs">mRNA-targeted</text>
<text x="1352.72" y="232.60" font-size="26" textLength="65.48" lengthAdjust="spacingAndGlyphs">CTCs</text>
<line x1="136.20" y1="577.00" x2="136.20" y2="1027.80" stroke="#000" stroke-width="1.9"/>
<line x1="125.70" y1="1027.70" x2="496.00" y2="1027.70" stroke="#000" stroke-width="1.9"/>
<line x1="125.70" y1="937.40" x2="136.50" y2="937.40" stroke="#222" stroke-width="1.9"/>
<line x1="125.70" y1="848.40" x2="136.50" y2="848.40" stroke="#222" stroke-width="1.9"/>
<line x1="125.70" y1="757.00" x2="136.50" y2="757.00" stroke="#222" stroke-width="1.9"/>
<line x1="125.70" y1="668.40" x2="136.50" y2="668.40" stroke="#222" stroke-width="1.9"/>
<line x1="125.70" y1="577.80" x2="136.50" y2="577.80" stroke="#222" stroke-width="1.9"/>
<text x="96.93" y="1035.70" font-size="28" textLength="16.20" lengthAdjust="spacingAndGlyphs">0</text>
<text x="80.77" y="946.10" font-size="28" textLength="32.39" lengthAdjust="spacingAndGlyphs">10</text>
<text x="80.77" y="857.10" font-size="28" textLength="32.39" lengthAdjust="spacingAndGlyphs">20</text>
<text x="80.77" y="765.70" font-size="28" textLength="32.39" lengthAdjust="spacingAndGlyphs">30</text>
<text x="80.77" y="677.10" font-size="28" textLength="32.39" lengthAdjust="spacingAndGlyphs">40</text>
<text x="80.77" y="586.50" font-size="28" textLength="32.39" lengthAdjust="spacingAndGlyphs">50</text>
<rect x="160.30" y="892.00" width="14.50" height="135.00" fill="#c8c8c8"/>
<rect x="161.90" y="893.40" width="11.30" height="133.60" fill="#727272"/>
<rect x="148.00" y="936.80" width="12.60" height="90.20" fill="#9a9a9a"/>
<rect x="148.40" y="938.00" width="11.80" height="89.00" fill="#000"/>
<rect x="210.60" y="837.80" width="14.40" height="189.20" fill="#c8c8c8"/>
<rect x="212.20" y="839.20" width="11.20" height="187.80" fill="#727272"/>
<rect x="199.60" y="882.80" width="11.80" height="144.20" fill="#9a9a9a"/>
<rect x="200.00" y="884.00" width="11.00" height="143.00" fill="#000"/>
<rect x="263.60" y="892.00" width="14.40" height="135.00" fill="#c8c8c8"/>
<rect x="265.20" y="893.40" width="11.20" height="133.60" fill="#727272"/>
<rect x="251.90" y="991.00" width="13.50" height="36.00" fill="#9a9a9a"/>
<rect x="252.30" y="992.20" width="12.70" height="34.80" fill="#000"/>
<rect x="313.80" y="748.20" width="14.60" height="278.80" fill="#c8c8c8"/>
<rect x="315.40" y="749.60" width="11.40" height="277.40" fill="#727272"/>
<rect x="302.00" y="1007.60" width="13.60" height="19.40" fill="#9a9a9a"/>
<rect x="302.40" y="1008.80" width="12.80" height="18.20" fill="#000"/>
<rect x="416.50" y="648.80" width="14.20" height="378.20" fill="#c8c8c8"/>
<rect x="418.10" y="650.20" width="11.00" height="376.80" fill="#727272"/>
<rect x="405.40" y="945.20" width="12.40" height="81.80" fill="#9a9a9a"/>
<rect x="405.80" y="946.40" width="11.60" height="80.60" fill="#000"/>
<rect x="467.60" y="819.60" width="14.50" height="207.40" fill="#c8c8c8"/>
<rect x="469.20" y="821.00" width="11.30" height="206.00" fill="#727272"/>
<rect x="455.90" y="991.00" width="13.50" height="36.00" fill="#9a9a9a"/>
<rect x="456.30" y="992.20" width="12.70" height="34.80" fill="#000"/>
<text transform="translate(141.20 1080.80) rotate(-45)" x="0.00" y="0.00" font-size="28" textLength="43.33" lengthAdjust="spacingAndGlyphs">PIA</text>
<text transform="translate(189.62 1086.08) rotate(-45)" x="0.00" y="0.00" font-size="28" textLength="50.81" lengthAdjust="spacingAndGlyphs">P2A</text>
<text transform="translate(240.22 1086.08) rotate(-45)" x="0.00" y="0.00" font-size="28" textLength="50.81" lengthAdjust="spacingAndGlyphs">P3A</text>
<text transform="translate(291.42 1086.08) rotate(-45)" x="0.00" y="0.00" font-size="28" textLength="50.81" lengthAdjust="spacingAndGlyphs">P4A</text>
<text transform="translate(342.42 1086.08) rotate(-45)" x="0.00" y="0.00" font-size="28" textLength="50.81" lengthAdjust="spacingAndGlyphs">P5A</text>
<text transform="translate(393.42 1086.08) rotate(-45)" x="0.00" y="0.00" font-size="28" textLength="50.81" lengthAdjust="spacingAndGlyphs">P6A</text>
<text transform="translate(444.62 1086.08) rotate(-45)" x="0.00" y="0.00" font-size="28" textLength="50.81" lengthAdjust="spacingAndGlyphs">P7A</text>
<text transform="translate(49.20 953.45) rotate(-90)" x="0.00" y="0.00" font-size="28" textLength="303.10" lengthAdjust="spacingAndGlyphs">Number of cells captured</text>
<rect x="158.20" y="577.00" width="23.00" height="26.40" fill="#808080"/>
<rect x="158.20" y="655.90" width="23.00" height="26.90" fill="#000"/>
<text x="193.94" y="595.80" font-size="28" textLength="204.09" lengthAdjust="spacingAndGlyphs">EpCAM-targeted</text>
<text x="194.84" y="628.40" font-size="28" textLength="69.73" lengthAdjust="spacingAndGlyphs">CTCs</text>
<text x="194.36" y="672.40" font-size="28" textLength="174.06" lengthAdjust="spacingAndGlyphs">mRNA-targted</text>
<text x="194.84" y="704.40" font-size="28" textLength="69.73" lengthAdjust="spacingAndGlyphs">CTCs</text>
<line x1="648.90" y1="573.60" x2="648.90" y2="1027.60" stroke="#000" stroke-width="2.1"/>
<line x1="650.60" y1="575.00" x2="650.60" y2="1026.60" stroke="#bbb" stroke-width="1.0"/>
<rect x="637.00" y="1025.20" width="426.50" height="3.30" fill="#7a7a7a"/>
<line x1="637.30" y1="936.20" x2="649.50" y2="936.20" stroke="#333" stroke-width="2.1"/>
<line x1="637.30" y1="845.80" x2="649.50" y2="845.80" stroke="#333" stroke-width="2.1"/>
<line x1="637.30" y1="755.40" x2="649.50" y2="755.40" stroke="#333" stroke-width="2.1"/>
<line x1="637.30" y1="665.00" x2="649.50" y2="665.00" stroke="#333" stroke-width="2.1"/>
<line x1="637.30" y1="574.60" x2="649.50" y2="574.60" stroke="#333" stroke-width="2.1"/>
<text x="611.80" y="1036.30" font-size="27.5" textLength="15.91" lengthAdjust="spacingAndGlyphs">0</text>
<text x="587.63" y="945.90" font-size="27.5" textLength="39.76" lengthAdjust="spacingAndGlyphs">0.4</text>
<text x="588.06" y="855.50" font-size="27.5" textLength="39.76" lengthAdjust="spacingAndGlyphs">0.8</text>
<text x="588.28" y="765.10" font-size="27.5" textLength="39.76" lengthAdjust="spacingAndGlyphs">1.2</text>
<text x="588.06" y="674.70" font-size="27.5" textLength="39.76" lengthAdjust="spacingAndGlyphs">1.6</text>
<text x="612.16" y="584.30" font-size="27.5" textLength="15.91" lengthAdjust="spacingAndGlyphs">2</text>
<rect x="671.20" y="619.80" width="26.50" height="407.80" fill="#0d0d0d"/>
<rect x="674.80" y="623.40" width="19.40" height="401.70" fill="#ff3300"/>
<rect x="727.00" y="587.47" width="28.00" height="439.13" fill="#a9a9a9"/>
<rect x="728.90" y="589.97" width="25.00" height="437.63" fill="#000"/>
<rect x="730.60" y="591.67" width="21.60" height="433.43" fill="#a00000"/>
<rect x="731.60" y="592.67" width="19.00" height="432.43" fill="#ff0000"/>
<rect x="786.60" y="890.00" width="24.40" height="136.60" fill="#cfcfcf"/>
<rect x="787.20" y="891.00" width="23.00" height="135.60" fill="#000"/>
<rect x="843.40" y="982.66" width="26.00" height="43.94" fill="#cfcfcf"/>
<rect x="844.00" y="983.66" width="24.60" height="42.94" fill="#000"/>
<rect x="947.40" y="901.30" width="22.10" height="125.30" fill="#cfcfcf"/>
<rect x="948.00" y="902.30" width="20.70" height="124.30" fill="#000"/>
<rect x="1014.80" y="920.51" width="26.00" height="106.09" fill="#cfcfcf"/>
<rect x="1015.40" y="921.51" width="24.60" height="105.09" fill="#000"/>
<text transform="translate(661.10 1080.80) rotate(-45)" x="0.00" y="0.00" font-size="28" textLength="43.33" lengthAdjust="spacingAndGlyphs">PIA</text>
<text transform="translate(718.22 1086.08) rotate(-45)" x="0.00" y="0.00" font-size="28" textLength="50.81" lengthAdjust="spacingAndGlyphs">P2A</text>
<text transform="translate(772.52 1086.08) rotate(-45)" x="0.00" y="0.00" font-size="28" textLength="50.81" lengthAdjust="spacingAndGlyphs">P3A</text>
<text transform="translate(832.12 1086.08) rotate(-45)" x="0.00" y="0.00" font-size="28" textLength="50.81" lengthAdjust="spacingAndGlyphs">P4A</text>
<text transform="translate(880.82 1086.08) rotate(-45)" x="0.00" y="0.00" font-size="28" textLength="50.81" lengthAdjust="spacingAndGlyphs">P5A</text>
<text transform="translate(933.62 1086.08) rotate(-45)" x="0.00" y="0.00" font-size="28" textLength="50.81" lengthAdjust="spacingAndGlyphs">P6A</text>
<text transform="translate(1000.82 1086.08) rotate(-45)" x="0.00" y="0.00" font-size="28" textLength="50.81" lengthAdjust="spacingAndGlyphs">P7A</text>
<text transform="translate(553.40 842.10) rotate(-90) scale(1 1.1)" x="0.00" y="0.00" font-size="28" textLength="27.49" lengthAdjust="spacingAndGlyphs">EI</text>
<text transform="translate(561.70 816.45) rotate(-90) scale(1 1.08)" x="0.00" y="0.00" font-size="19.5" textLength="57.02" lengthAdjust="spacingAndGlyphs">AR-V7</text>
<rect x="792.10" y="577.00" width="24.90" height="28.50" fill="#a0a0a0"/>
<rect x="792.10" y="577.00" width="24.90" height="27.20" fill="#160000"/>
<rect x="794.20" y="578.80" width="21.20" height="23.50" fill="#ff0000"/>
<rect x="792.10" y="631.00" width="24.90" height="29.60" fill="#7a7a7a"/>
<rect x="792.10" y="631.00" width="24.90" height="28.40" fill="#000"/>
<text x="825.24" y="599.60" font-size="28" textLength="110.38" lengthAdjust="spacingAndGlyphs">PCR +ve</text>
<text x="825.23" y="653.30" font-size="28" textLength="109.98" lengthAdjust="spacingAndGlyphs">PCR –ve</text>
<line x1="1197.10" y1="579.00" x2="1197.10" y2="1028.40" stroke="#000" stroke-width="2.0"/>
<line x1="1186.00" y1="1027.60" x2="1462.00" y2="1027.60" stroke="#000" stroke-width="1.8"/>
<rect x="1186.00" y="1028.50" width="276.00" height="1.00" fill="#c8c8c8"/>
<line x1="1186.00" y1="878.20" x2="1197.50" y2="878.20" stroke="#444" stroke-width="1.8"/>
<line x1="1186.00" y1="728.80" x2="1197.50" y2="728.80" stroke="#444" stroke-width="1.8"/>
<line x1="1186.00" y1="579.40" x2="1197.50" y2="579.40" stroke="#444" stroke-width="1.8"/>
<text x="1158.69" y="1037.80" font-size="28" textLength="16.35" lengthAdjust="spacingAndGlyphs">0</text>
<text x="1158.98" y="888.40" font-size="28" textLength="16.35" lengthAdjust="spacingAndGlyphs">1</text>
<text x="1159.05" y="739.00" font-size="28" textLength="16.35" lengthAdjust="spacingAndGlyphs">2</text>
<text x="1158.83" y="589.60" font-size="28" textLength="16.35" lengthAdjust="spacingAndGlyphs">3</text>
<rect x="1218.20" y="658.33" width="24.80" height="369.27" fill="#b5b5b5"/>
<rect x="1219.00" y="659.33" width="22.60" height="368.27" fill="#380000"/>
<rect x="1220.50" y="660.83" width="19.60" height="366.77" fill="#ff0000"/>
<rect x="1349.60" y="606.79" width="25.20" height="420.81" fill="#b5b5b5"/>
<rect x="1350.40" y="607.79" width="23.00" height="419.81" fill="#380000"/>
<rect x="1351.90" y="609.29" width="20.00" height="418.31" fill="#ff0000"/>
<rect x="1283.70" y="872.72" width="24.30" height="154.88" fill="#cfcfcf"/>
<rect x="1284.30" y="873.72" width="22.90" height="153.88" fill="#000"/>
<rect x="1416.70" y="957.13" width="24.30" height="70.47" fill="#cfcfcf"/>
<rect x="1417.30" y="958.13" width="22.90" height="69.47" fill="#000"/>
<text x="1214.76" y="1061.40" font-size="28" textLength="31.80" lengthAdjust="spacingAndGlyphs">P1</text>
<text x="1284.51" y="1061.40" font-size="28" textLength="35.46" lengthAdjust="spacingAndGlyphs">P2</text>
<text x="1349.72" y="1061.40" font-size="28" textLength="35.33" lengthAdjust="spacingAndGlyphs">P3</text>
<text x="1417.62" y="1061.40" font-size="28" textLength="33.75" lengthAdjust="spacingAndGlyphs">P4</text>
<text transform="translate(1123.10 885.10) rotate(-90) scale(1 1.1)" x="0.00" y="0.00" font-size="28" textLength="27.49" lengthAdjust="spacingAndGlyphs">EI</text>
<text transform="translate(1132.20 855.21) rotate(-90) scale(1 1.06)" x="0.00" y="0.00" font-size="19" textLength="133.11" lengthAdjust="spacingAndGlyphs">TMPRSS2-ERG</text>
<rect x="1396.20" y="577.00" width="24.80" height="28.40" fill="#d2d2d2"/>
<rect x="1396.20" y="577.00" width="24.80" height="26.90" fill="#120000"/>
<rect x="1398.00" y="578.80" width="21.20" height="23.30" fill="#ff0000"/>
<rect x="1396.20" y="631.00" width="24.80" height="28.60" fill="#c4c4c4"/>
<rect x="1396.20" y="631.00" width="24.80" height="27.20" fill="#000"/>
<text x="1427.75" y="599.50" font-size="28" textLength="110.07" lengthAdjust="spacingAndGlyphs">PCR +ve</text>
<text x="1427.74" y="653.50" font-size="28" textLength="109.67" lengthAdjust="spacingAndGlyphs">PCR –ve</text>
</svg>
</body>
</html>
